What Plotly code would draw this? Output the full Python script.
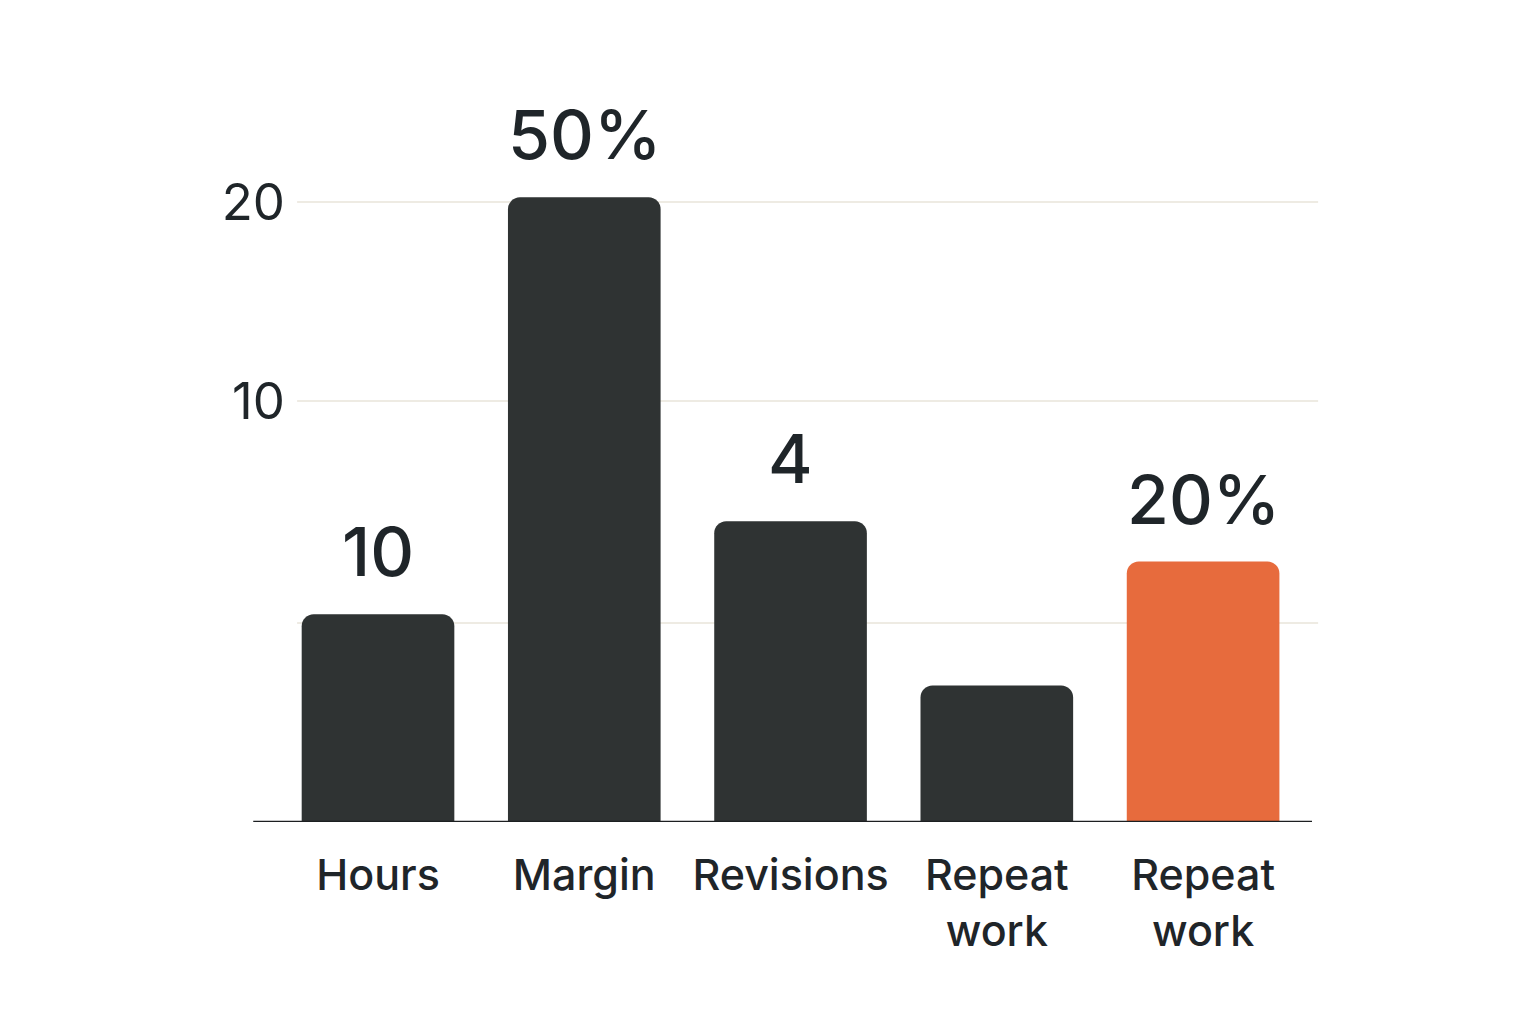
import plotly.graph_objects as go

categories = ["Hours", "Margin", "Revisions", "Repeat<br>work", "Repeat<br>work"]
values = [6.7, 20.15, 9.7, 4.4, 8.4]
value_labels = ["10", "50%", "4", "", "20%"]
bar_colors = ["#2f3333", "#2f3333", "#2f3333", "#2f3333", "#e76b3d"]

grid_values = [6.42, 13.58, 20]
grid_labels = ["", "10", "20"]

TEXT = "#1f2529"
FONT = "Inter"

positions = list(range(len(categories)))

fig = go.Figure()
fig.add_trace(go.Bar(
    x=positions,
    y=values,
    marker=dict(color=bar_colors, cornerradius=12, line=dict(width=0)),
    width=0.74,
    hoverinfo="skip",
))

for xi, yi, lab in zip(positions, values, value_labels):
    if lab:
        fig.add_annotation(
            x=xi, y=yi, text=lab, showarrow=False,
            xanchor="center", yanchor="bottom", yshift=20,
            font=dict(family=FONT, size=68, color=TEXT, weight=500),
        )

for gv in grid_values:
    fig.add_shape(
        type="line", xref="paper", yref="y",
        x0=0.005, x1=1.006, y0=gv, y1=gv,
        line=dict(color="#e9e4da", width=1.5), layer="below",
    )

fig.add_shape(
    type="line", xref="paper", yref="y",
    x0=-0.038, x1=1.0, y0=0, y1=0,
    line=dict(color="#1c1f21", width=2.5), layer="above",
)

fig.update_layout(
    width=1536, height=1024,
    margin=dict(l=292, r=224, t=60, b=202),
    paper_bgcolor="white", plot_bgcolor="white",
    showlegend=False,
    font=dict(family=FONT, color=TEXT),
    xaxis=dict(
        range=[-0.417, 4.528],
        tickvals=positions, ticktext=categories,
        showgrid=False, zeroline=False, showline=False, ticks="",
        tickfont=dict(family=FONT, size=43, color=TEXT, weight=500),
        ticklabelstandoff=24,
        fixedrange=True,
    ),
    yaxis=dict(
        range=[0, 762 / 31],
        tickvals=grid_values, ticktext=grid_labels,
        showgrid=False, zeroline=False, showline=False, ticks="",
        tickfont=dict(family=FONT, size=51, color=TEXT),
        ticklabelstandoff=6,
        fixedrange=True,
    ),
)

fig.write_html("out.html")
